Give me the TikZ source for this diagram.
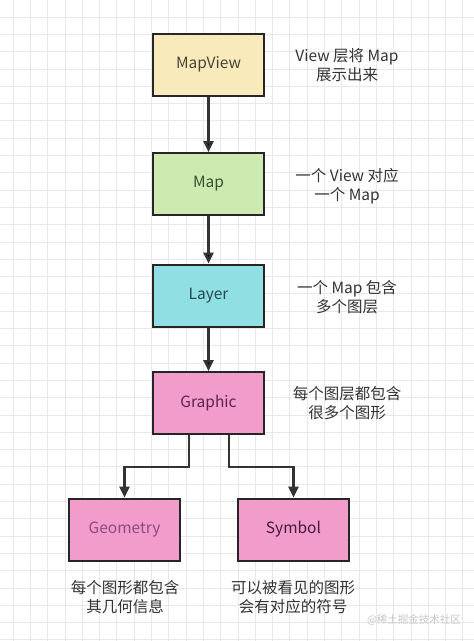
\documentclass[tikz,border=0pt]{standalone}
\usepackage{fontspec}
\setmainfont{Noto Sans CJK SC}
\usepackage{tikz}
\usetikzlibrary{arrows.meta, shapes}

\definecolor{viewfill}{HTML}{F8EABB}
\definecolor{mapfill}{HTML}{CDEBB0}
\definecolor{layerfill}{HTML}{90DFE3}
\definecolor{graphfill}{HTML}{F19CCB}
\definecolor{edgegray}{HTML}{333333}
\definecolor{gridgray}{HTML}{E8E8E8}
\definecolor{viewtext}{HTML}{4A4438}
\definecolor{maptext}{HTML}{34502F}
\definecolor{layertext}{HTML}{24484E}
\definecolor{graphtext}{HTML}{5E2450}
\definecolor{geomtext}{HTML}{8E4A82}
\definecolor{symtext}{HTML}{44193C}

\begin{document}
\begin{tikzpicture}[
    x=1pt, y=-1pt,
    objbox/.style={shape=rectangle, draw=black!85, line width=2pt, minimum width=111pt, minimum height=62pt, font=\fontsize{15.5}{18}\selectfont},
    objnote/.style={align=center, text=edgegray, font=\fontsize{15.5}{19}\selectfont},
    link/.style={draw=edgegray, line width=2.5pt, -{Triangle[length=11pt, width=10pt]}},
]
\fill[white] (0,0) rectangle (474,641);
\useasboundingbox (0,0) rectangle (474,641);
\begin{scope}[shift={(13,17)}]
\draw[gridgray, line width=0.8pt, step=17.3pt] (-13,-17) grid (461,624);
\end{scope}

\node[objbox, fill=viewfill, text=viewtext] (mapview) at (208.5, 64.5) {MapView};
\node[objbox, fill=mapfill, text=maptext] (map) at (208.5, 184) {Map};
\node[objbox, fill=layerfill, text=layertext] (layer) at (208.5, 295.5) {Layer};
\node[objbox, fill=graphfill, text=graphtext] (graphic) at (208.5, 403) {Graphic};
\node[objbox, fill=graphfill, text=geomtext] (geometry) at (124.5, 529.5) {Geometry};
\node[objbox, fill=graphfill, text=symtext] (symbol) at (293.5, 529.5) {Symbol};

\node[objnote] (viewnote) at (347, 65) {View 层将 Map\\展示出来};
\node[objnote] (mapnote) at (347, 186) {一个 View 对应\\一个 Map};
\node[objnote] (layernote) at (347, 297) {一个 Map 包含\\多个图层};
\node[objnote] (graphnote) at (347, 403) {每个图层都包含\\很多个图形};
\node[objnote] (geomnote) at (125, 597) {每个图形都包含\\其几何信息};
\node[objnote] (symnote) at (293, 597) {可以被看见的图形\\会有对应的符号};
\node[text=black!22, font=\fontsize{10.5}{12}\selectfont] (mark) at (414, 620) {@稀土掘金技术社区};

\coordinate (split) at (208.5, 467);

\path[link]
    (mapview) edge (map)
    (map) edge (layer)
    (layer) edge (graphic)
;
\draw[link] ([xshift=-19.5pt]graphic.south) -- ([xshift=-19.5pt]graphic.south |- split) -| (geometry.north);
\draw[link] ([xshift=20.5pt]graphic.south) -- ([xshift=20.5pt]graphic.south |- split) -| (symbol.north);
\end{tikzpicture}
\end{document}
